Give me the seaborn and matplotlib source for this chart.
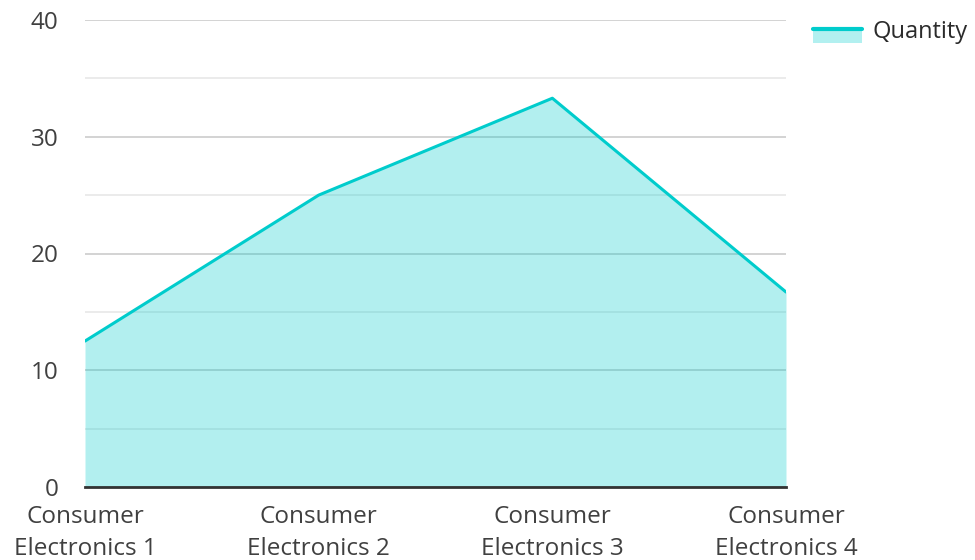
import pandas as pd
import matplotlib.pyplot as plt
import seaborn as sns
from matplotlib.patches import Rectangle
from matplotlib.lines import Line2D
from matplotlib.ticker import MultipleLocator

categories = ['Consumer\nElectronics 1', 'Consumer\nElectronics 2',
              'Consumer\nElectronics 3', 'Consumer\nElectronics 4']
quantity = [12.5, 25.0, 33.3, 16.7]

data = pd.DataFrame({'pos': range(len(categories)), 'Quantity': quantity})

line_color = '#00cccc'
fill_color = '#b2f0f0'

sns.set_style('white')
plt.rcParams['font.family'] = ['Open Sans', 'DejaVu Sans']

fig = plt.figure(figsize=(9.75, 5.6), dpi=100)
ax = fig.add_axes([85 / 975, 1 - 487 / 560, (786 - 85) / 975, (487 - 20) / 560])

# grid sits under the translucent fill
ax.set_axisbelow(True)
ax.fill_between(data['pos'], data['Quantity'], 0, color=line_color, alpha=0.3,
                linewidth=0, zorder=1)
sns.lineplot(data=data, x='pos', y='Quantity', color=line_color, linewidth=2.2,
             ax=ax, zorder=3)

ax.set_xlim(0, 3)
ax.set_ylim(0, 40)
ax.yaxis.set_major_locator(MultipleLocator(10))
ax.yaxis.set_minor_locator(MultipleLocator(5))
ax.grid(axis='y', which='major', color='#c8c8c8', linewidth=1.1)
ax.grid(axis='y', which='minor', color='#e6e6e6', linewidth=1.1)

ax.set_xticks(data['pos'])
ax.set_xticklabels(categories, linespacing=1.42)
ax.tick_params(axis='both', which='both', length=0, labelsize=17.5, colors='#404040')
ax.tick_params(axis='x', pad=13)
ax.tick_params(axis='y', pad=19)
ax.set_xlabel('')
ax.set_ylabel('')

for s in ['left', 'right', 'top']:
    ax.spines[s].set_visible(False)
ax.spines['bottom'].set_color('#333333')
ax.spines['bottom'].set_linewidth(2)
ax.spines['bottom'].set_zorder(4)


class AreaHandler:
    def legend_artist(self, legend, orig_handle, fontsize, handlebox):
        x0, y0 = handlebox.xdescent, handlebox.ydescent
        w, h = handlebox.width, handlebox.height
        top = y0 + h * 0.55
        rect = Rectangle((x0, top - 10.5), w, 10.5,
                         facecolor=fill_color, edgecolor='none',
                         transform=handlebox.get_transform())
        ln = Line2D([x0, x0 + w], [top, top], color=line_color,
                    linewidth=3, transform=handlebox.get_transform())
        handlebox.add_artist(rect)
        handlebox.add_artist(ln)
        return rect


proxy = Rectangle((0, 0), 1, 1)
fig.legend([proxy], ['Quantity'], handler_map={Rectangle: AreaHandler()},
           loc='upper right', bbox_to_anchor=(1 - 7 / 975, 1 - 20 / 560),
           frameon=False, fontsize=17, handlelength=2.1, handletextpad=0.45,
           labelcolor='#2b2b2b', borderaxespad=0.0, borderpad=0.0)

plt.savefig('out.png', dpi=100)
